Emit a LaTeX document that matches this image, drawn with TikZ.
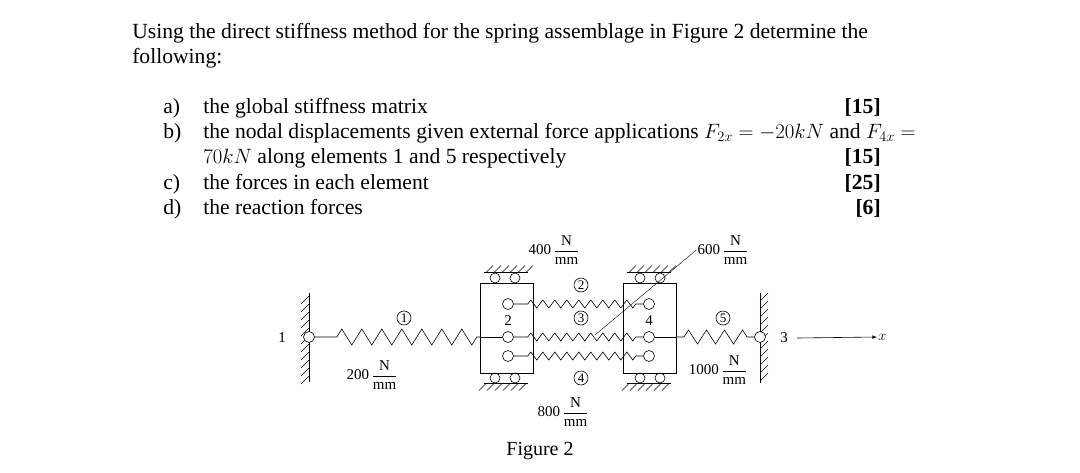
\documentclass[tikz,border=0pt]{standalone}
\usepackage{fontspec}
\setmainfont{Liberation Serif}
\usetikzlibrary{decorations.pathmorphing}

\tikzset{
  pin/.style = {circle, draw, fill = white, inner sep = 0pt, minimum size = 11pt, line width = 0.6pt},
  spring/.style = {decorate, decoration = {zigzag, segment length = 12pt, amplitude = 4pt, pre length = 14pt, post length = 6pt}},
  elem/.style = {circle, draw, inner sep = 0pt, minimum size = 14pt, font = \fontsize{13}{13}\selectfont},
  lbl/.style = {font = \fontsize{15}{15}\selectfont, inner sep = 1pt},
  txt/.style = {anchor = base west, font = \fontsize{21.6}{24}\selectfont, inner sep = 0pt},
  score/.style = {anchor = base east, font = \bfseries\fontsize{21.6}{24}\selectfont, inner sep = 0pt}
}
\newcommand\kval[1]{#1\,$\displaystyle\frac{\mathrm{N}}{\mathrm{mm}}$}

\begin{document}
\begin{tikzpicture}[x = 1pt, y = -1pt, line width = 0.6pt]
\useasboundingbox (0,0) rectangle (1080,472);
% question text
\node[txt] (q1) at (132,38) {Using the direct stiffness method for the spring assemblage in Figure 2 determine the};
\node[txt] (q2) at (132,63) {following:};
\foreach \n/\y/\s in {a/113/a), b/138/b), c/189/c), d/214/d)}
  \node[txt] (l\n) at (163,\y) {\s};
\node[txt] (qa) at (203,113) {the global stiffness matrix};
\node[txt] (qb) at (203,138) {the nodal displacements given external force applications $F_{2x}=-20kN$ and $F_{4x}=$};
\node[txt] (qb2) at (203,163) {$70kN$ along elements 1 and 5 respectively};
\node[txt] (qc) at (203,189) {the forces in each element};
\node[txt] (qd) at (203,214) {the reaction forces};
\node[score] (ma) at (881,113) {[15]};
\node[score] (mb) at (881,163) {[15]};
\node[score] (mc) at (881,189) {[25]};
\node[score] (md) at (881,214) {[6]};
% walls
\draw[line width = 0.8pt] (309,293) -- (309,382);
\foreach \y in {296,304,...,380} \draw (309,\y) -- (301,\y+8);
\draw[line width = 0.8pt] (760,293) -- (760,383);
\foreach \y in {293,301,...,377} \draw (760,\y+8) -- (768,\y);
% blocks with rollers
\foreach \bx/\r in {480/495, 623/640}
{
\draw (\bx,283) rectangle (\bx+53,373);
\foreach \dx in {0,20}
{
\draw (\r+\dx,278) circle (5);
\draw (\r+\dx,378) circle (5);
}
\draw (\bx+4,272.5) -- (\bx+48,272.5);
\draw (\bx+4,383.5) -- (\bx+48,383.5);
\foreach \dx in {6,14,...,46}
{
\draw (\bx+\dx,272.5) -- (\bx+\dx+7,265.5);
\draw (\bx+\dx,383.5) -- (\bx+\dx-7,390.5);
}
}
% nodes
\node[pin] (n1) at (309,337) {};
\node[pin] (n3) at (760,337) {};
\coordinate (b1) at (480,337);
\coordinate (b2) at (676,337);
\foreach \y/\s in {304/t, 337/m, 356/b}
{
\node[pin] (l\s) at (508,\y) {};
\node[pin] (r\s) at (649,\y) {};
}
\draw (b1) -- (lm.west);
\draw (rm.east) -- (b2);
% springs
\draw[spring, decoration = {segment length = 20pt, amplitude = 8pt, pre length = 22pt, post length = 2pt}] (n1) -- (b1);
\draw[spring] (lt) -- (rt);
\draw[spring] (lm) -- (rm);
\draw[spring] (lb) -- (rb);
\draw[spring, decoration = {segment length = 18pt, amplitude = 7pt, pre length = 8pt, post length = 6pt}] (b2) -- (n3);
% labels
\node[lbl] (t1) at (282,338) {1};
\node[lbl] (t2) at (508,321) {2};
\node[lbl] (t3) at (784,338) {3};
\node[lbl] (t4) at (649,321) {4};
\node[elem] (e1) at (404,318) {1};
\node[elem] (e2) at (581,285) {2};
\node[elem] (e3) at (581,318) {3};
\node[elem] (e4) at (581,378) {4};
\node[elem] (e5) at (723,318) {5};
\node[lbl] (k1) at (372,375) {\kval{200}};
\node[lbl] (k2) at (554,250) {\kval{400}};
\node[lbl] (k3) at (723,250) {\kval{600}};
\node[lbl] (k4) at (563,412) {\kval{800}};
\node[lbl] (k5) at (718,370) {\kval{1000}};
\coordinate (c3) at (595,335);
\draw[line width = 0.4pt] (c3) -- (k3.west);
% axis
\coordinate (ax) at (877,337);
\draw[-latex] (t3.east) ++(8,0) coordinate (a0) -- (ax);
\node[lbl, anchor = west] (xl) at (ax) {$x$};
\node[font = \fontsize{20}{20}\selectfont] (cap) at (540,451) {Figure 2};
\end{tikzpicture}
\end{document}
